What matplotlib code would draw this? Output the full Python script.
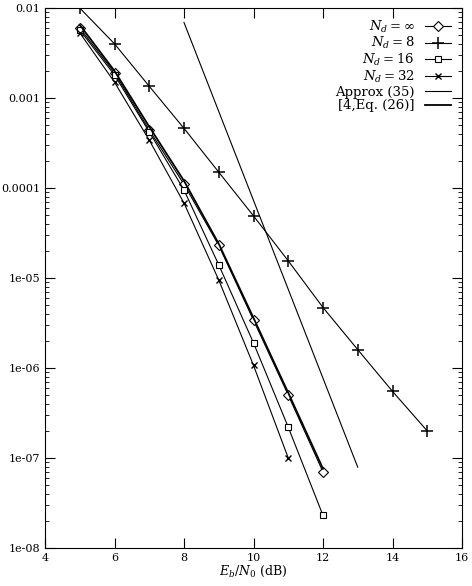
import matplotlib
matplotlib.use("Agg")
import matplotlib.pyplot as plt
from matplotlib.ticker import FixedLocator, FixedFormatter, LogLocator, NullFormatter

plt.rcParams['font.family'] = ['DejaVu Serif']
plt.rcParams['mathtext.fontset'] = 'dejavuserif'

x_inf = [5, 6, 7, 8, 9, 10, 11, 12]
y_inf = [6e-3, 1.9e-3, 4.4e-4, 1.1e-4, 2.3e-5, 3.4e-6, 5e-7, 7e-8]
x_8 = [5, 6, 7, 8, 9, 10, 11, 12, 13, 14, 15]
y_8 = [1e-2, 4e-3, 1.35e-3, 4.6e-4, 1.5e-4, 4.9e-5, 1.55e-5, 4.7e-6, 1.6e-6, 5.5e-7, 2e-7]
x_16 = [5, 6, 7, 8, 9, 10, 11, 12]
y_16 = [5.7e-3, 1.8e-3, 4.2e-4, 9.5e-5, 1.4e-5, 1.9e-6, 2.2e-7, 2.3e-8]
x_32 = [5, 6, 7, 8, 9, 10, 11]
y_32 = [5.3e-3, 1.5e-3, 3.4e-4, 6.8e-5, 9.5e-6, 1.07e-6, 1e-7]
x_apx = [8, 13]
y_apx = [6.9e-3, 7.9e-8]
x_ref = [5, 6, 7, 8, 9, 10, 11, 12]
y_ref = [6.5e-3, 2e-3, 4.8e-4, 1.2e-4, 2.4e-5, 3.6e-6, 5.3e-7, 7.6e-8]

fig = plt.figure(figsize=(4.72, 5.86), dpi=100)
ax = fig.add_axes([45/472, 1-548/586, 417/472, 540/586])
ax.plot(x_inf, y_inf, 'k-', marker='D', mfc='white', ms=5, mew=0.8, lw=0.8, label=r'$N_d=\infty$')
ax.plot(x_8, y_8, 'k-', marker='+', ms=8, mew=1.1, lw=0.8, label=r'$N_d=8$')
ax.plot(x_16, y_16, 'k-', marker='s', mfc='white', ms=5, mew=0.8, lw=0.8, label=r'$N_d=16$')
ax.plot(x_32, y_32, 'k-', marker='x', ms=5, lw=0.8, label=r'$N_d=32$')
ax.plot(x_apx, y_apx, 'k-', lw=0.8, label='Approx (35)')
ax.plot(x_ref, y_ref, 'k-', lw=1.3, label='[4,Eq. (26)]')
ax.set_yscale('log')
ax.set_xlim(4, 16)
ax.set_ylim(1e-8, 1e-2)
ax.set_xticks([4, 6, 8, 10, 12, 14, 16])
yt = [1e-2, 1e-3, 1e-4, 1e-5, 1e-6, 1e-7, 1e-8]
ax.yaxis.set_major_locator(FixedLocator(yt))
ax.yaxis.set_major_formatter(FixedFormatter(['0.01', '0.001', '0.0001', '1e-05', '1e-06', '1e-07', '1e-08']))
ax.yaxis.set_minor_locator(LogLocator(base=10, subs=range(2, 10)))
ax.yaxis.set_minor_formatter(NullFormatter())
ax.tick_params(which='both', direction='in', top=True, right=True, labelsize=8)
ax.tick_params(which='major', length=7)
ax.tick_params(which='minor', length=3)
ax.set_xlabel(r'$E_b/N_0$ (dB)', fontsize=9, labelpad=1)
ax.legend(loc='upper right', frameon=False, markerfirst=False, fontsize=9.5,
          handlelength=2, labelspacing=0.05, borderaxespad=0.4)
fig.savefig('out.png', dpi=100)
